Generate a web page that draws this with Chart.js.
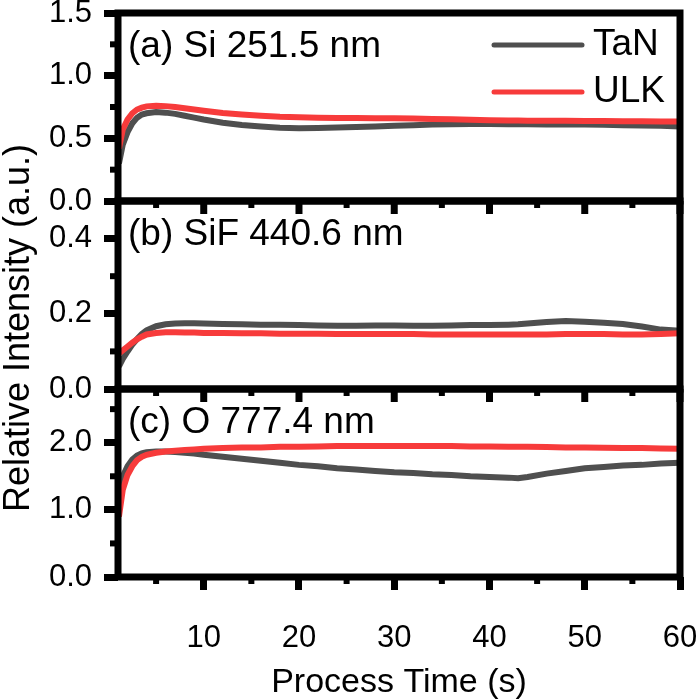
<!DOCTYPE html>
<html>
<head>
<meta charset="utf-8">
<script src="https://cdn.jsdelivr.net/npm/chart.js@4.4.1/dist/chart.umd.min.js"></script>
<style>
  html, body { margin: 0; padding: 0; background: #fff; }
  #wrap { width: 698px; height: 700px; }
</style>
</head>
<body>
<div id="wrap"><canvas id="oesChart" width="698" height="700"></canvas></div>
<script>
// process time (s)
const times = [1.1, 1.5, 2, 2.5, 3, 3.5, 4, 5, 6, 7, 8, 9, 10, 12, 14, 16, 18, 20, 22, 24, 26, 28, 30, 32, 34, 36, 38, 40, 42, 43, 44, 46, 48, 50, 52, 54, 56, 58, 60];

// (a) Si 251.5 nm
const tanSi = [0.30, 0.45, 0.55, 0.62, 0.665, 0.69, 0.70, 0.71, 0.705, 0.695, 0.68, 0.665, 0.65, 0.625, 0.607, 0.595, 0.585, 0.58, 0.583, 0.587, 0.59, 0.595, 0.60, 0.605, 0.61, 0.612, 0.615, 0.615, 0.613, 0.612, 0.612, 0.61, 0.61, 0.61, 0.608, 0.605, 0.603, 0.60, 0.595];
const ulkSi = [0.42, 0.57, 0.65, 0.70, 0.73, 0.745, 0.755, 0.76, 0.757, 0.75, 0.74, 0.73, 0.72, 0.703, 0.69, 0.68, 0.672, 0.668, 0.665, 0.663, 0.662, 0.66, 0.66, 0.658, 0.655, 0.652, 0.648, 0.645, 0.643, 0.642, 0.641, 0.64, 0.64, 0.639, 0.638, 0.637, 0.636, 0.635, 0.634];

// (b) SiF 440.6 nm
const tanSiF = [0.06, 0.08, 0.10, 0.118, 0.133, 0.146, 0.156, 0.167, 0.172, 0.174, 0.175, 0.175, 0.174, 0.173, 0.172, 0.171, 0.171, 0.17, 0.169, 0.168, 0.168, 0.169, 0.169, 0.168, 0.168, 0.169, 0.17, 0.17, 0.171, 0.172, 0.174, 0.178, 0.181, 0.179, 0.176, 0.173, 0.166, 0.158, 0.155];
const ulkSiF = [0.095, 0.103, 0.113, 0.123, 0.132, 0.139, 0.145, 0.149, 0.151, 0.151, 0.15, 0.15, 0.149, 0.149, 0.148, 0.148, 0.147, 0.147, 0.147, 0.146, 0.146, 0.146, 0.146, 0.146, 0.145, 0.145, 0.145, 0.145, 0.145, 0.145, 0.145, 0.145, 0.146, 0.146, 0.146, 0.145, 0.145, 0.146, 0.148];

// (c) O 777.4 nm
const tanO = [1.30, 1.50, 1.65, 1.75, 1.81, 1.84, 1.86, 1.87, 1.87, 1.86, 1.85, 1.84, 1.82, 1.79, 1.76, 1.73, 1.70, 1.67, 1.65, 1.62, 1.60, 1.58, 1.56, 1.55, 1.53, 1.52, 1.50, 1.49, 1.48, 1.47, 1.49, 1.54, 1.58, 1.62, 1.64, 1.66, 1.67, 1.69, 1.70];
const ulkO = [0.90, 1.30, 1.52, 1.65, 1.74, 1.79, 1.82, 1.85, 1.87, 1.88, 1.89, 1.90, 1.91, 1.92, 1.93, 1.93, 1.94, 1.94, 1.945, 1.95, 1.95, 1.95, 1.95, 1.95, 1.95, 1.95, 1.945, 1.945, 1.94, 1.94, 1.94, 1.935, 1.93, 1.93, 1.925, 1.92, 1.92, 1.915, 1.91];

const seriesNames = ["TaN", "ULK"];
const panelLabels = ["(a) Si 251.5 nm", "(b) SiF 440.6 nm", "(c) O 777.4 nm"];

const xTicks = [10, 20, 30, 40, 50, 60];
const xMinorTicks = [5, 15, 25, 35, 45, 55];
const yTicksA = [0, 0.5, 1.0, 1.5];
const yMinorA = [0.25, 0.75, 1.25];
const yTicksB = [0, 0.2, 0.4];
const yMinorB = [0.1, 0.3];
const yTicksC = [0, 1, 2];
const yMinorC = [0.5, 1.5, 2.5];

const FONT = "'Liberation Sans', Arial, sans-serif";
const tanColor = "#4f4f4f";
const ulkColor = "#f73b3b";

const panels = [
  { id: "ya", label: panelLabels[0], tan: tanSi, ulk: ulkSi, min: 0, max: 1.5, ticks: yTicksA, minor: yMinorA, weight: 3 },
  { id: "yb", label: panelLabels[1], tan: tanSiF, ulk: ulkSiF, min: 0, max: 0.5, ticks: yTicksB, minor: yMinorB, weight: 2 },
  { id: "yc", label: panelLabels[2], tan: tanO, ulk: ulkO, min: 0, max: 2.8, ticks: yTicksC, minor: yMinorC, weight: 1 }
];

function toPoints(vals) {
  return times.map((t, i) => ({ x: t, y: vals[i] }));
}

const datasets = [];
panels.forEach(p => {
  datasets.push({ label: seriesNames[1], data: toPoints(p.ulk), yAxisID: p.id, borderColor: ulkColor, order: 0 });
  datasets.push({ label: seriesNames[0], data: toPoints(p.tan), yAxisID: p.id, borderColor: tanColor, order: 1 });
});

function yAxis(p) {
  return {
    type: "linear",
    position: "left",
    stack: "panels",
    stackWeight: 1,
    weight: p.weight,
    min: p.min,
    max: p.max,
    afterBuildTicks: s => { s.ticks = p.ticks.map(v => ({ value: v })); },
    afterFit: s => { s.width = 118; s.paddingTop = 0; s.paddingBottom = 0; s.paddingLeft = 0; s.paddingRight = 0; },
    border: { display: false },
    grid: { drawOnChartArea: false, tickLength: 14, tickWidth: 7, tickColor: "#000" },
    ticks: {
      color: "#000",
      autoSkip: false,
      padding: 12,
      font: { family: FONT, size: 31, lineHeight: 0.85 },
      callback: v => Number(v).toFixed(1)
    }
  };
}

////////////////////////////////
// frames, minor ticks, labels, legend
////////////////////////////////
const panelFrame = {
  id: "panelFrame",
  afterDraw(chart) {
    const ctx = chart.ctx;
    const area = chart.chartArea;
    const xs = chart.scales.x;

    function seg(x1, y1, x2, y2) {
      ctx.beginPath();
      ctx.moveTo(x1, y1);
      ctx.lineTo(x2, y2);
      ctx.stroke();
    }

    ctx.save();
    ctx.strokeStyle = "#000";
    ctx.fillStyle = "#000";

    panels.forEach((p, i) => {
      const s = chart.scales[p.id];

      // minor y ticks
      ctx.lineWidth = 6;
      p.minor.forEach(v => {
        const y = s.getPixelForValue(v);
        seg(area.left - 8, y, area.left, y);
      });

      // x ticks along the bottom of each panel
      xMinorTicks.forEach(v => {
        const x = xs.getPixelForValue(v);
        seg(x, s.bottom, x, s.bottom + 7);
      });
      if (i < panels.length - 1) {
        ctx.lineWidth = 7;
        xTicks.forEach(v => {
          const x = xs.getPixelForValue(v);
          seg(x, s.bottom, x, s.bottom + 13);
        });
      }

      // frame
      ctx.lineWidth = 7;
      ctx.strokeRect(area.left, s.top, area.right - area.left, s.bottom - s.top);

      // panel label
      ctx.font = "37px " + FONT;
      ctx.textAlign = "left";
      ctx.textBaseline = "middle";
      ctx.fillText(p.label, area.left + 10, s.top + 34);
    });

    // legend
    const legendRows = [
      { name: seriesNames[0], color: tanColor, y: area.top + 32 },
      { name: seriesNames[1], color: ulkColor, y: area.top + 79 }
    ];
    legendRows.forEach(r => {
      ctx.strokeStyle = r.color;
      ctx.lineWidth = 5;
      ctx.lineCap = "round";
      seg(area.right - 186, r.y, area.right - 98, r.y);
      ctx.fillStyle = "#000";
      ctx.font = "37px " + FONT;
      ctx.textAlign = "left";
      ctx.textBaseline = "middle";
      ctx.fillText(r.name, area.right - 87, r.y);
    });

    // shared y title
    ctx.translate(19, 328);
    ctx.rotate(-Math.PI / 2);
    ctx.font = "36px " + FONT;
    ctx.textAlign = "center";
    ctx.textBaseline = "middle";
    ctx.fillStyle = "#000";
    ctx.fillText("Relative Intensity (a.u.)", 0, 0);

    ctx.restore();
  }
};

new Chart(document.getElementById("oesChart"), {
  type: "line",
  data: { datasets: datasets },
  options: {
    responsive: false,
    animation: false,
    devicePixelRatio: 1,
    layout: { padding: { left: 0, right: 18, top: 13, bottom: 0 } },
    elements: {
      point: { radius: 0 },
      line: { borderWidth: 6, tension: 0, fill: false }
    },
    plugins: {
      legend: { display: false },
      tooltip: { enabled: false }
    },
    scales: {
      x: {
        type: "linear",
        position: "bottom",
        min: 1,
        max: 60,
        afterBuildTicks: s => { s.ticks = xTicks.map(v => ({ value: v })); },
        afterFit: s => { s.height = 123; s.paddingLeft = 0; s.paddingRight = 0; },
        border: { display: false },
        grid: { drawOnChartArea: false, tickLength: 13, tickWidth: 7, tickColor: "#000" },
        ticks: {
          color: "#000",
          autoSkip: false,
          maxRotation: 0,
          padding: 30,
          font: { family: FONT, size: 31, lineHeight: 1.2 }
        },
        title: {
          display: true,
          text: "Process Time (s)",
          color: "#000",
          font: { family: FONT, size: 34, lineHeight: 1 },
          padding: { top: 0, bottom: 0 }
        }
      },
      yc: yAxis(panels[2]),
      yb: yAxis(panels[1]),
      ya: yAxis(panels[0])
    }
  },
  plugins: [panelFrame]
});
</script>
</body>
</html>
